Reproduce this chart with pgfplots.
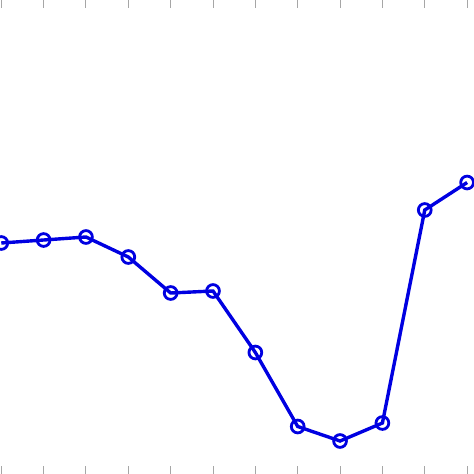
\documentclass[border=0pt]{standalone}
\usepackage{pgfplots}
\pgfplotsset{compat=1.18}
\definecolor{mblue}{RGB}{0,0,225}
\begin{document}
\begin{tikzpicture}
\begin{axis}[
  scale only axis,
  width=237pt, height=237pt,
  xmin=-0.03, xmax=11.16,
  ymin=0, ymax=474,
  axis line style={draw=none},
  xtick={0,...,11},
  ytick=\empty,
  xticklabels={},
  tick align=inside,
  major tick length=4pt,
  every tick/.style={gray!70, line width=0.5pt},
  clip=false,
]
\addplot[mblue, line width=1.7pt, mark=o, mark size=3.2pt,
         mark options={line width=1.4pt}]
  coordinates {
  (0,231) (1,234) (2,237) (3,217) (4,181) (5,183)
  (6,121.5) (7,47.5) (8,33) (9,51) (10,264) (11,291.5)
  };
\end{axis}
\pgfresetboundingbox
\useasboundingbox (current axis.south west) rectangle (current axis.north east);
\end{tikzpicture}
\end{document}
